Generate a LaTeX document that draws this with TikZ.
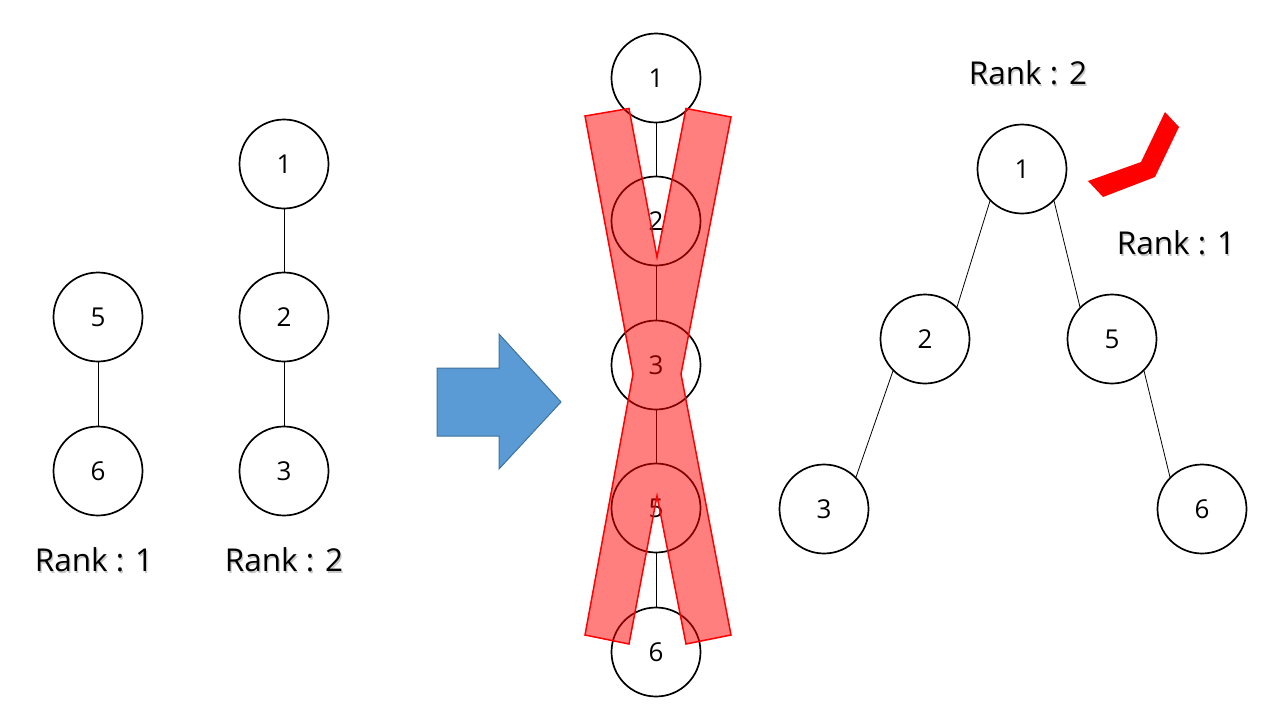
\documentclass[tikz,border=0pt]{standalone}
\usepackage{fontspec}
\setmainfont{Open Sans}
\begin{document}
\begin{tikzpicture}[x=1pt,y=-1pt,
  vtx/.style={circle,draw=black,line width=1.7pt,minimum size=89pt,inner sep=0pt,fill=white,font=\fontsize{26}{30}\selectfont},
  edge/.style={draw=black,line width=0.8pt},
  ranklbl/.style={font=\fontsize{31.5}{36}\selectfont,inner sep=0pt},
  rankshadow/.style={font=\fontsize{31.5}{36}\selectfont,inner sep=0pt,text=black!22}]
\useasboundingbox (0,0) rectangle (1283,728);
% left forest
\node[vtx] (a5) at (98,317) {5};
\node[vtx] (a6) at (98,471) {6};
\node[vtx] (b1) at (284,164) {1};
\node[vtx] (b2) at (284,317) {2};
\node[vtx] (b3) at (284,471) {3};
\draw[edge] (a5) -- (a6);
\draw[edge] (b1) -- (b2);
\draw[edge] (b2) -- (b3);
\node[rankshadow] at (95.3,561.3) {Rank : 1};
\node[ranklbl] (r1) at (94,560) {Rank : 1};
\node[rankshadow] at (285.3,561.3) {Rank : 2};
\node[ranklbl] (r2) at (284,560) {Rank : 2};
% big arrow
\filldraw[fill={rgb,255:red,91;green,155;blue,213},draw={rgb,255:red,65;green,113;blue,156},line width=1pt]
  (437,368) -- (499,368) -- (499,334) -- (561,402) -- (499,469) -- (499,436) -- (437,436) -- cycle;
% middle chain
\node[vtx] (m1) at (656,78) {1};
\node[vtx] (m2) at (656,221) {2};
\node[vtx] (m3) at (656,365) {3};
\node[vtx] (m5) at (656,508) {5};
\node[vtx] (m6) at (656,652) {6};
\draw[edge] (m1) -- (m2);
\draw[edge] (m2) -- (m3);
\draw[edge] (m3) -- (m5);
\draw[edge] (m5) -- (m6);
% red X
\filldraw[fill=red,fill opacity=0.5,draw=red,line width=1.5pt]
  (585,116) -- (629,108.5) -- (657,257) -- (686,108.5) -- (731,117) -- (681,374)
  -- (731,635) -- (686,644) -- (657,496) -- (629,644) -- (585,635) -- (633,374) -- cycle;
% right tree
\node[vtx] (t1) at (1022,169) {1};
\node[vtx] (t2) at (925,339) {2};
\node[vtx] (t5) at (1112,339) {5};
\node[vtx] (t3) at (824,509) {3};
\node[vtx] (t6) at (1202,509) {6};
\draw[edge] (t1.south west) -- (t2.north east);
\draw[edge] (t1.south east) -- (t5.north west);
\draw[edge] (t2.south west) -- (t3.north east);
\draw[edge] (t5.south east) -- (t6.north west);
\node[rankshadow] at (1029.3,74.3) {Rank : 2};
\node[ranklbl] (r3) at (1028,73) {Rank : 2};
\node[rankshadow] at (1177.3,244.3) {Rank : 1};
\node[ranklbl] (r4) at (1176,243) {Rank : 1};
% red check mark
\fill[red] (1088,181) -- (1141,162) -- (1165,112) -- (1179,127) -- (1155,177) -- (1103,197) -- cycle;
\end{tikzpicture}
\end{document}
